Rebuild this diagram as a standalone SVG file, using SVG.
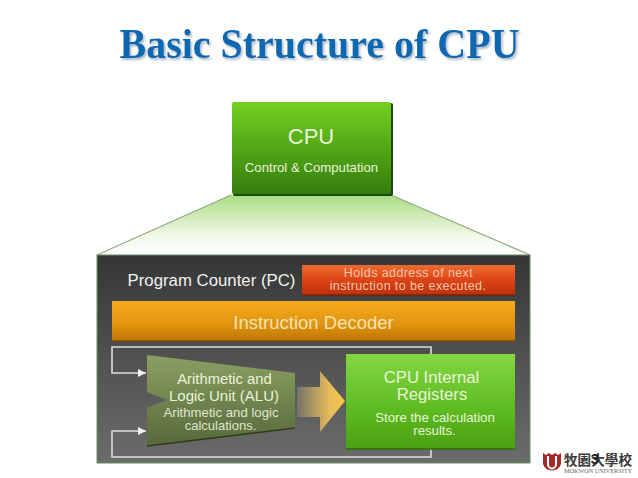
<svg xmlns="http://www.w3.org/2000/svg" width="638" height="478" viewBox="0 0 638 478">
<defs>
<style>
text{font-family:"Liberation Sans",Arial,sans-serif;text-anchor:middle}
.lt{fill:#eaf3d8}
.wire{fill:none;stroke:#dcdfdc;stroke-width:1.6}
.ttl{font-family:"Liberation Serif","DejaVu Serif",serif;font-size:42px;font-weight:700}
</style>
<linearGradient id="gCpu" x1="0" y1="0" x2="0" y2="1"><stop offset="0" stop-color="#72d021"/><stop offset=".5" stop-color="#52a816"/><stop offset="1" stop-color="#357c0c"/></linearGradient>
<linearGradient id="gFun" x1="0" y1="0" x2="0" y2="1"><stop offset="0" stop-color="#a9dc80"/><stop offset=".7" stop-color="#f3faec"/><stop offset="1" stop-color="#ffffff"/></linearGradient>
<linearGradient id="gPanel" x1="0" y1="0" x2="0" y2="1"><stop offset="0" stop-color="#353636"/><stop offset="1" stop-color="#6c6c6c"/></linearGradient>
<linearGradient id="gRed" x1="0" y1="0" x2="0" y2="1"><stop offset="0" stop-color="#ee6a30"/><stop offset=".5" stop-color="#dd4417"/><stop offset="1" stop-color="#bd300c"/></linearGradient>
<linearGradient id="gOr" x1="0" y1="0" x2="0" y2="1"><stop offset="0" stop-color="#f5ab1e"/><stop offset=".6" stop-color="#e0930f"/><stop offset="1" stop-color="#bd7505"/></linearGradient>
<linearGradient id="gAlu" x1="0" y1="0" x2="0" y2="1"><stop offset="0" stop-color="#8b9f63"/><stop offset="1" stop-color="#56693a"/></linearGradient>
<linearGradient id="gReg" x1="0" y1="0" x2="0" y2="1"><stop offset="0" stop-color="#84d742"/><stop offset=".6" stop-color="#5cba20"/><stop offset="1" stop-color="#4aa012"/></linearGradient>
<linearGradient id="gArr" x1="0" y1="0" x2="1" y2="0"><stop offset="0" stop-color="#75736a"/><stop offset=".7" stop-color="#e9bd5b"/><stop offset="1" stop-color="#f9c443"/></linearGradient>
<filter id="soft" x="-5%" y="-5%" width="110%" height="110%"><feGaussianBlur stdDeviation="0.5"/></filter>
<filter id="ts" x="-5%" y="-20%" width="110%" height="150%"><feDropShadow dx="1.500" dy="2" stdDeviation="1.200" flood-color="#8fa6b8" flood-opacity=".8"/></filter>
</defs>
<rect width="638" height="478" fill="#fff"/>
<g id="title">
<text class="ttl" x="319.500" y="58" fill="#1168b2" filter="url(#ts)" textLength="400" lengthAdjust="spacingAndGlyphs">Basic Structure of CPU</text>
</g>
<g id="funnel">
<path d="M231 195H391L530 255H97Z" fill="url(#gFun)"/>
<path d="M97 255L231 195M391 195L530 255" fill="none" stroke="#8fa886" stroke-width="1.2"/>
</g>
<g id="panel">
<rect x="97" y="255" width="433" height="208" fill="url(#gPanel)" stroke="#6f8a68" stroke-width="1"/>
</g>
<g id="connectors">
<path class="wire" d="M146 373H112V347H431V354"/>
<path class="wire" d="M146 431H112V457H431V449"/>
<path d="M146 373l-8-4v8Z M146 431l-8-4v8Z" fill="#f0f2ee"/>
</g>
<g id="cpu">
<rect x="233" y="103" width="160" height="93" rx="2" fill="#1f4a08" filter="url(#soft)"/>
<rect x="232" y="102" width="159" height="92" rx="2" fill="url(#gCpu)"/>
<text class="lt" x="311" y="144" font-size="22">CPU</text>
<text class="lt" x="311.500" y="172" font-size="13.200">Control &amp; Computation</text>
</g>
<g id="pc">
<text x="211.500" y="286" font-size="16.800" fill="#f1f1f1">Program Counter (PC)</text>
</g>
<g id="pc-note">
<rect x="302" y="265" width="213" height="30" fill="url(#gRed)"/>
<path d="M302 295H515" stroke="#7c2208" stroke-width="1.500"/>
<text x="408.500" y="277" font-size="12.500" letter-spacing=".4" fill="#f3c7aa">Holds address of next</text>
<text x="408" y="289.500" font-size="12.500" letter-spacing=".4" fill="#f3c7aa">instruction to be executed.</text>
</g>
<g id="decoder">
<rect x="112" y="301" width="403" height="40" fill="url(#gOr)"/>
<path d="M112 341H515" stroke="#7d4d02" stroke-width="1.500"/>
<text x="313.500" y="328.500" font-size="18.500" fill="#f7e2b4">Instruction Decoder</text>
</g>
<g id="alu">
<path d="M147 355L295 373V428L147 446V408L167 400L147 392Z" fill="url(#gAlu)"/>
<path d="M295 428L147 446" stroke="#2f3a1c" stroke-width="1.500"/>
<text class="lt" x="224.500" y="384" font-size="14.800">Arithmetic and</text>
<text class="lt" x="224" y="401" font-size="15">Logic Unit (ALU)</text>
<text x="221" y="416.500" font-size="13.200" fill="#dfe5cf">Arithmetic and logic</text>
<text x="220.500" y="429.500" font-size="13" fill="#dfe5cf">calculations.</text>
</g>
<g id="flow-arrow">
<path d="M297 387H320V371L345 401L320 432V417H297Z" fill="url(#gArr)"/>
</g>
<g id="registers">
<rect x="346" y="354" width="169" height="95" fill="url(#gReg)"/>
<path d="M346 449H515" stroke="#2f6d08" stroke-width="1.500"/>
<text class="lt" x="431.500" y="383" font-size="16.700">CPU Internal</text>
<text class="lt" x="432" y="400" font-size="16.700">Registers</text>
<text class="lt" x="435" y="422" font-size="13.200">Store the calculation</text>
<text class="lt" x="434.500" y="435" font-size="13.200">results.</text>
</g>
<g id="logo">
<path d="M543 453l3 2 3-2 3 2 3-2 3 2 3-2V464A9.500 9.500 0 0 1 543 464Z" fill="#a32a28"/>
<path d="M548 456V464A4 4.500 0 0 0 556 464V456" fill="none" stroke="#fff" stroke-width="2"/>
<text x="598" y="465" font-size="14" font-weight="700" fill="#3a3a3a" style="font-family:'Noto Sans CJK TC','Noto Sans CJK SC',sans-serif" textLength="68" lengthAdjust="spacingAndGlyphs">牧園大學校</text>
<text x="598" y="473" font-size="5.500" fill="#666" style="font-family:'Liberation Serif',serif" textLength="68" lengthAdjust="spacingAndGlyphs">MOKWON UNIVERSITY</text>
<text x="595" y="464" font-size="15" font-weight="700" fill="#222">3</text>
</g>
</svg>
